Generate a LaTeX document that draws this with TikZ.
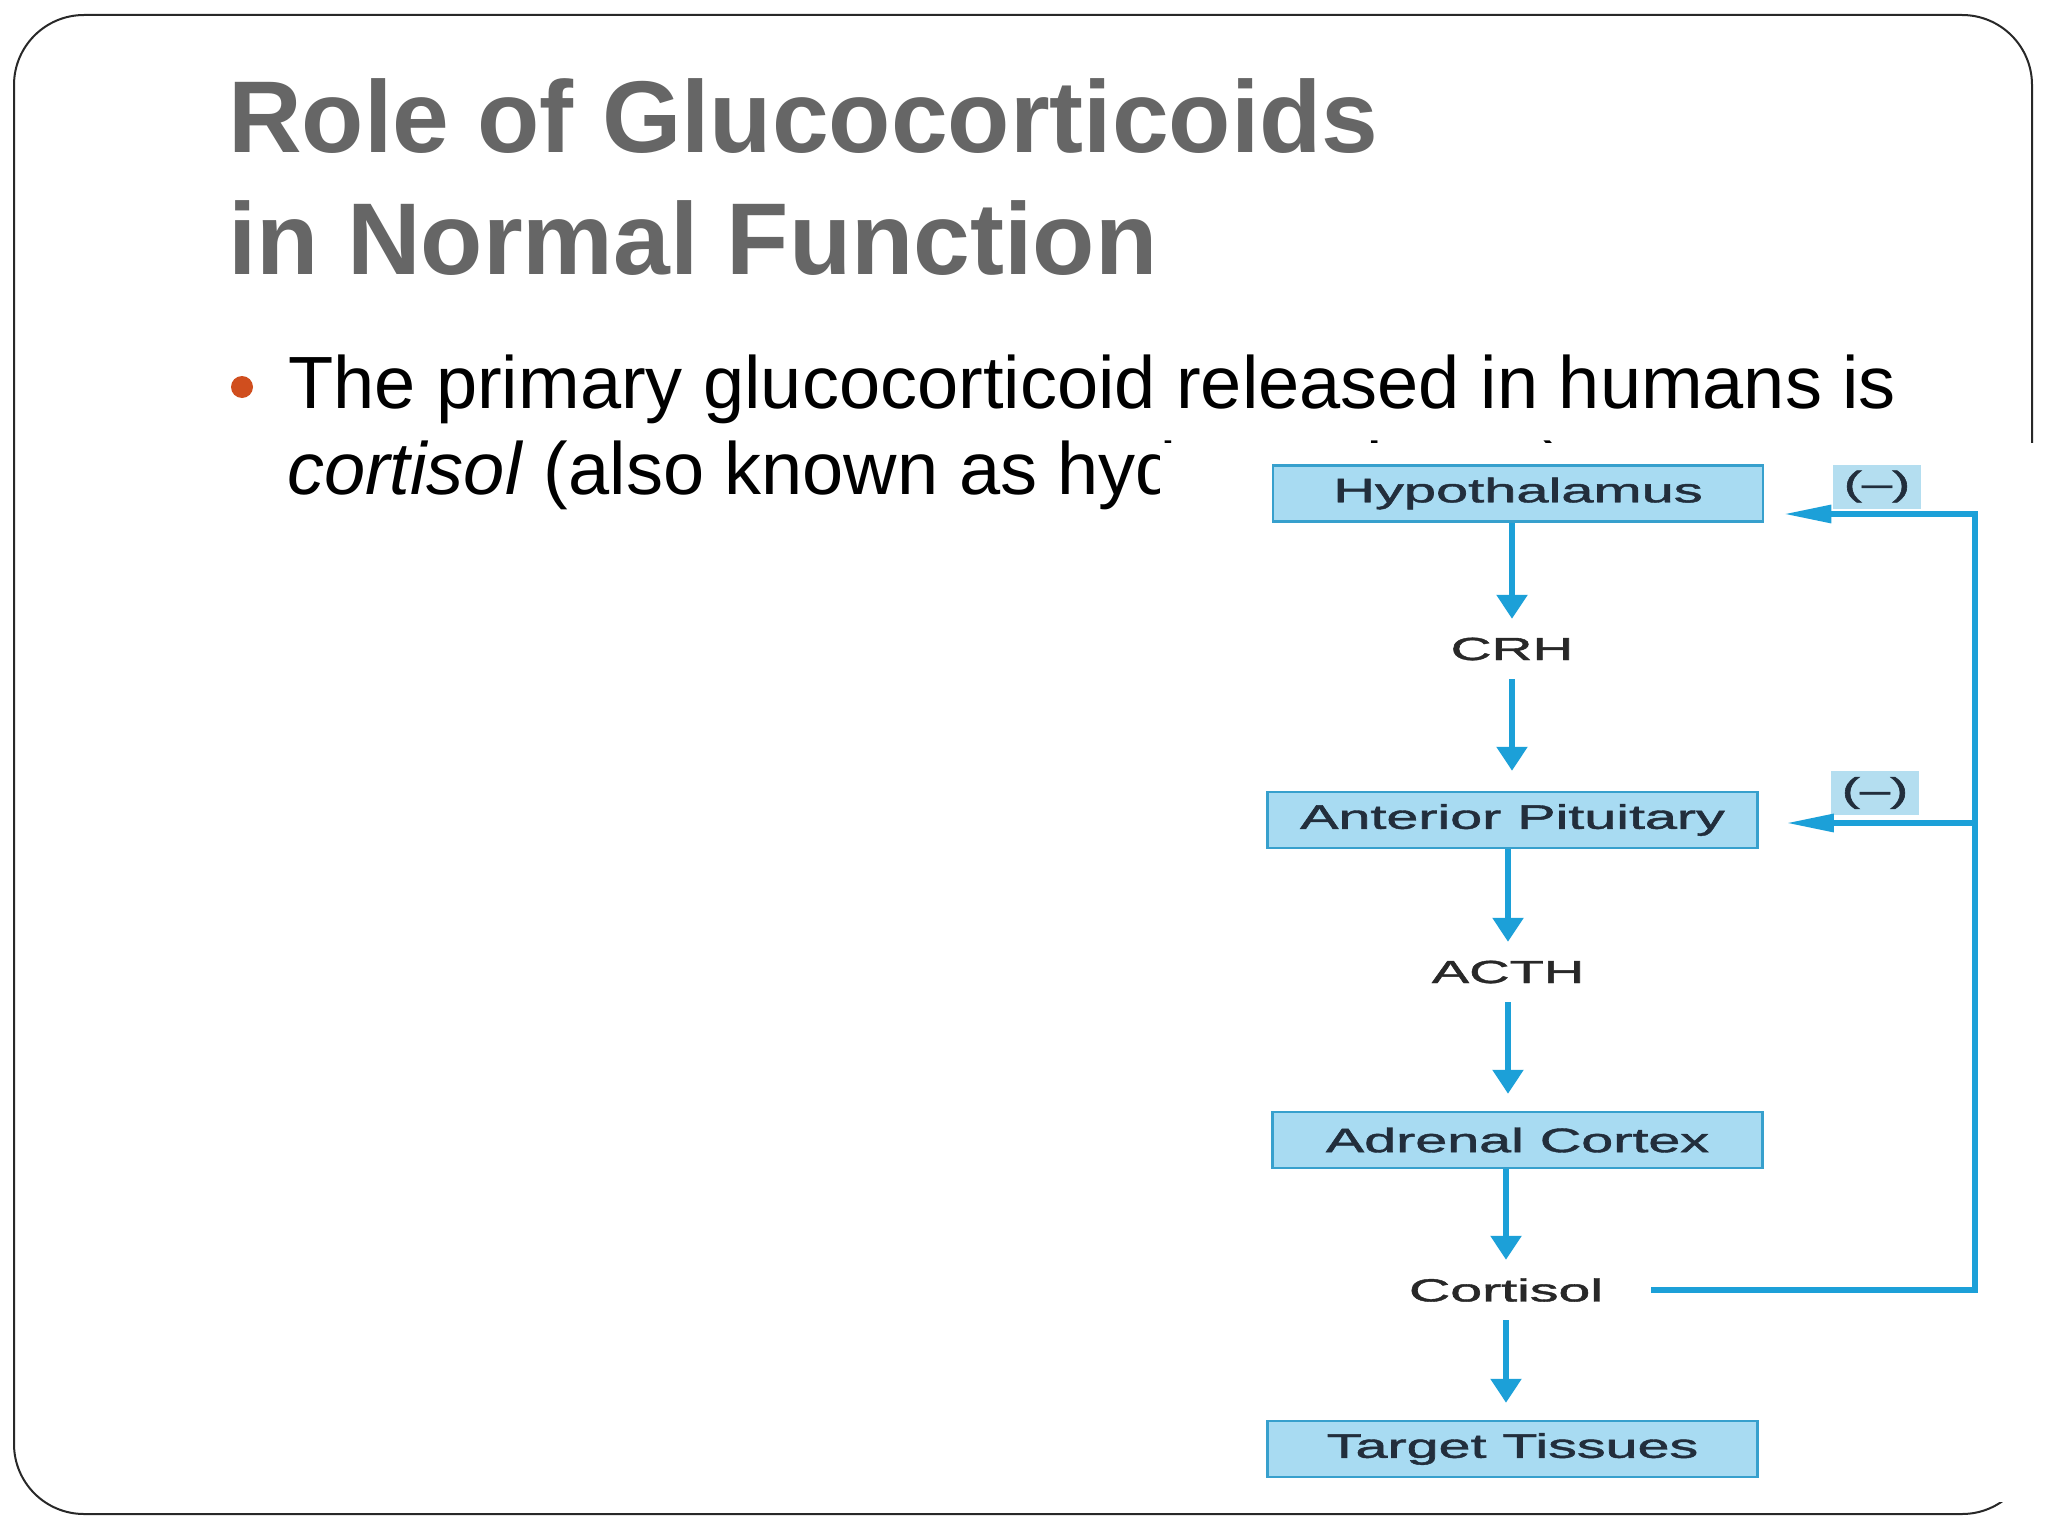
\documentclass[tikz,border=0pt]{standalone}
\usepackage{fontspec}
\setmainfont{Liberation Sans}
\newfontfamily\diagfont[FakeBold=1.2]{Liberation Sans}
\usepackage{graphicx}
\usetikzlibrary{arrows.meta,calc}
\definecolor{titlegray}{RGB}{102,102,102}
\definecolor{bulletred}{RGB}{208,78,30}
\definecolor{framegray}{RGB}{40,40,40}
\definecolor{boxfill}{RGB}{168,219,242}
\definecolor{boxedge}{RGB}{55,160,205}
\definecolor{arrowblue}{RGB}{28,160,216}
\definecolor{negfill}{RGB}{180,222,240}
\definecolor{boxtext}{RGB}{34,46,60}
\definecolor{labeltext}{RGB}{40,40,40}
\begin{document}
\begin{tikzpicture}[x=1pt,y=-1pt,
  stagebox/.style={draw=boxedge, line width=2.5pt, fill=boxfill, minimum width=490pt, minimum height=56pt, inner sep=0pt, text=boxtext, font=\diagfont\fontsize{34}{40}\selectfont},
  hormone/.style={inner sep=0pt, minimum height=60pt, text=labeltext, font=\diagfont\fontsize{32}{38}\selectfont},
  negbox/.style={fill=negfill, minimum width=88pt, minimum height=44pt, inner sep=0pt, text=boxtext, font=\diagfont\fontsize{34}{40}\selectfont},
  down/.style={draw=arrowblue, line width=5.5pt, -{Triangle[width=30pt,length=24pt]}},
  fbarrow/.style={draw=arrowblue, line width=6pt, -{Triangle[width=17pt,length=48pt]}},
  titleline/.style={anchor=base west, inner sep=0pt, text=titlegray, font=\fontsize{102}{122}\selectfont\bfseries},
  bodyline/.style={anchor=base west, inner sep=0pt, text=black, font=\fontsize{74}{87}\selectfont},
]
\useasboundingbox (0,0) rectangle (2048,1536);
\fill[white] (0,0) rectangle (2048,1536);
\draw[framegray, line width=2pt, rounded corners=70pt] (14,15) rectangle (2032,1514);

% title
\node[titleline] (t1) at (228,153) {Role of Glucocorticoids};
\node[titleline] (t2) at (228,274) {in Normal Function};

% bullet
\node[circle, fill=bulletred, minimum size=22pt, inner sep=0pt] (dot) at (242,387) {};
\node[bodyline] (b1) at (288,408) {The primary glucocorticoid released in humans is};
\node[bodyline] (b2) at (287,494) {\itshape cortisol\/\upshape{} (also known as hydrocortisone)};

% pasted figure background
\fill[white] (1160,443) rectangle (2040,1502);

% diagram
\node[stagebox] (hyp) at (1518,493.5) {\scalebox{1.7}[1]{Hypothalamus}};
\node[hormone] (crh) at (1512,649) {\scalebox{1.77}[1]{CRH}};
\node[stagebox] (ap) at (1512.5,820) {\scalebox{1.69}[1]{Anterior Pituitary}};
\node[hormone] (acth) at (1508,972) {\scalebox{1.75}[1]{ACTH}};
\node[stagebox] (ac) at (1517.5,1140) {\scalebox{1.69}[1]{Adrenal Cortex}};
\node[hormone] (cort) at (1506,1290) {\scalebox{1.79}[1]{Cortisol}};
\node[stagebox] (tt) at (1512.5,1449) {\scalebox{1.69}[1]{Target Tissues}};

\node[negbox] (neg1) at (1877,486.5) {\scalebox{1.6}[1]{(\textendash)}};
\node[negbox] (neg2) at (1875,793) {\scalebox{1.6}[1]{(\textendash)}};

\draw[down] (hyp.south -| crh) -- (crh.north);
\draw[down, shorten >=20pt] (crh.south) -- (ap.north -| crh);
\draw[down] (ap.south -| acth) -- (acth.north);
\draw[down, shorten >=17pt] (acth.south) -- (ac.north -| acth);
\draw[down] (ac.south -| cort) -- (cort.north);
\draw[down, shorten >=17pt] (cort.south) -- (tt.north -| cort);

\coordinate (fbtop) at (1975,514);
\coordinate (fbmid) at (1975,823);
\coordinate (fbbot) at (1975,1290);
\draw[fbarrow, shorten >=19pt] ($(cort.east)+(48,0)$) -- (fbbot) -- (fbtop) -- (fbtop -| hyp.east);
\draw[fbarrow, shorten >=27pt] (fbmid) -- (fbmid -| ap.east);
\end{tikzpicture}
\end{document}
